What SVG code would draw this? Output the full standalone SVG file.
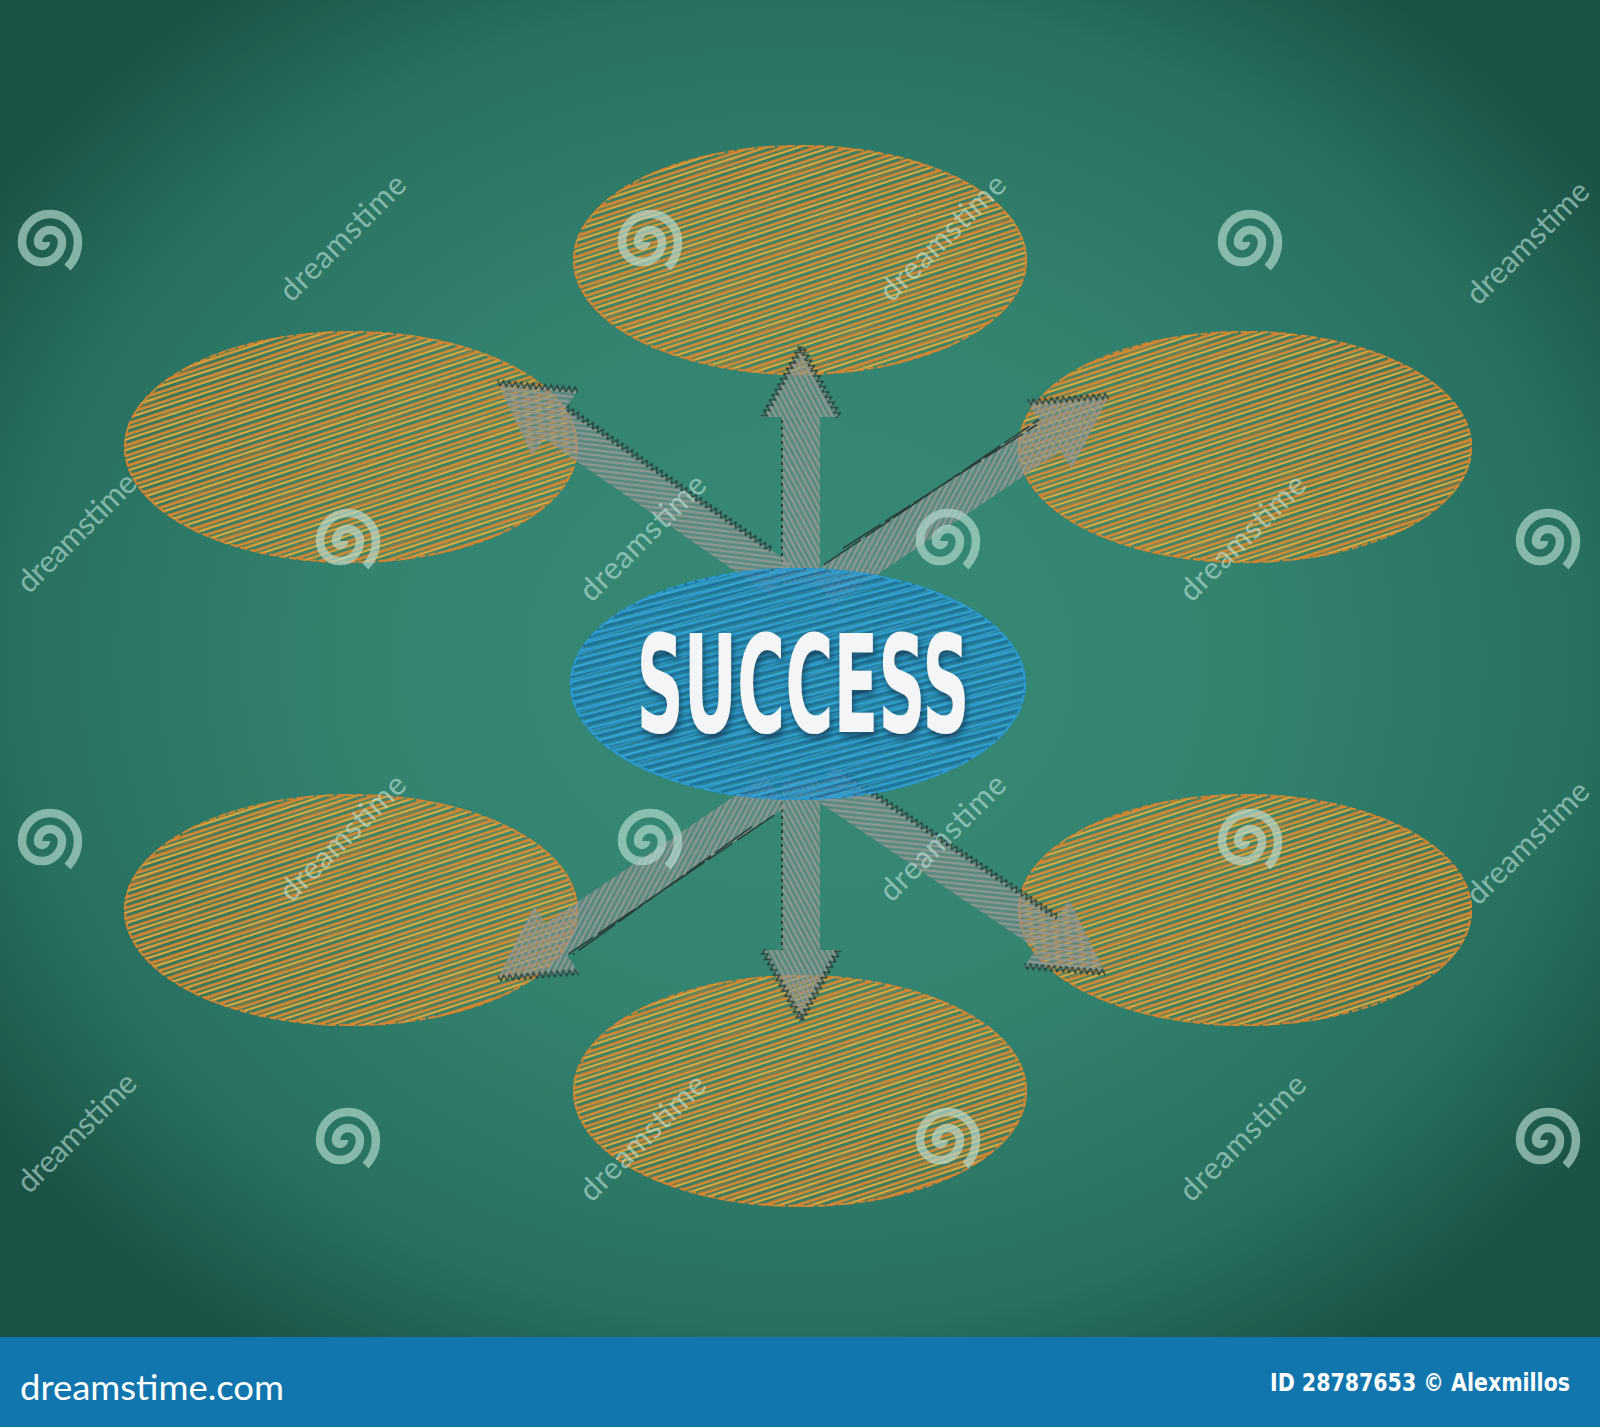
<svg xmlns="http://www.w3.org/2000/svg" xmlns:xlink="http://www.w3.org/1999/xlink" width="1600" height="1427" viewBox="0 0 1600 1427">
<defs>
<radialGradient id="bg" gradientUnits="userSpaceOnUse" cx="800" cy="660" r="980" gradientTransform="translate(800 660) scale(1 0.85) translate(-800 -660)">
<stop offset="0" stop-color="#378a78"/>
<stop offset="0.45" stop-color="#33836f"/>
<stop offset="0.8" stop-color="#287060"/>
<stop offset="1" stop-color="#1b5246"/>
</radialGradient>
<pattern id="orng" patternUnits="userSpaceOnUse" width="80" height="10" patternTransform="rotate(-18)">
<line x1="0" y1="2.5" x2="80" y2="2.5" stroke="#e0892d" stroke-width="2.6"/>
<line x1="0" y1="6.9" x2="80" y2="6.9" stroke="#dca83b" stroke-width="2.1"/>
</pattern>
<pattern id="orng2" patternUnits="userSpaceOnUse" width="80" height="17" patternTransform="rotate(-21)">
<line x1="0" y1="4" x2="80" y2="4" stroke="#cf7d2b" stroke-width="1.6"/>
</pattern>
<pattern id="blue" patternUnits="userSpaceOnUse" width="80" height="7" patternTransform="rotate(-14)">
<line x1="0" y1="1.8" x2="80" y2="1.8" stroke="#2d9fd6" stroke-width="2.2"/>
<line x1="0" y1="4.9" x2="80" y2="4.9" stroke="#1b6ea6" stroke-width="1.9"/>
</pattern>
<pattern id="blue2" patternUnits="userSpaceOnUse" width="80" height="11" patternTransform="rotate(-17)">
<line x1="0" y1="3" x2="80" y2="3" stroke="#3bb0e0" stroke-width="1.4"/>
</pattern>
<pattern id="hatch" patternUnits="userSpaceOnUse" width="40" height="5" patternTransform="rotate(-28)">
<line x1="0" y1="2" x2="40" y2="2" stroke="#8f9593" stroke-width="2.6"/>
</pattern>
<pattern id="zzp" patternUnits="userSpaceOnUse" x="0" y="-5" width="6" height="10">
<polyline points="0,2 3,8 6,2" fill="none" stroke="#26403b" stroke-width="1.4"/>
</pattern>
<path id="spiral" d="M4,0 A4,4 0 0 1 -4,0 A12,12 0 0 1 20,0 A20,20 0 0 1 -20,0 A28,28 0 0 1 36,0 A36,36 0 0 1 25.5,25.5" transform="translate(-7 2)"/>
<filter id="shadow" x="-10%" y="-20%" width="120%" height="150%">
<feDropShadow dx="2" dy="5" stdDeviation="3" flood-color="#0a3048" flood-opacity="0.65"/>
</filter>
</defs>
<style>
.scrib { fill: url(#orng); }
.scrib2 { fill: url(#orng2); opacity: 0.6; }
.tint { fill: #d9902e; opacity: 0.1; }
.rim { fill: none; stroke: #d8842e; stroke-width: 2.2; stroke-dasharray: 7 3; opacity: 0.85; }
.arrow { fill: url(#hatch); }
.arrowbase { fill: #8c9391; opacity: 0.32; }
.zz { fill: url(#zzp); }
.dash { fill: none; stroke: #2a3f3b; stroke-width: 2; stroke-dasharray: 3 4; }
.sketch { fill: none; stroke: #2a3f3b; stroke-width: 1.6; stroke-dasharray: 45 5 30 4; }
.wm { font-family: Lato, "Noto Sans", sans-serif; font-size: 31px; fill: #c2e4dc; fill-opacity: 0.6; }
.sp { fill: none; stroke: #b7dcd3; stroke-opacity: 0.66; stroke-width: 8.5; }
</style>

<rect x="0" y="0" width="1600" height="1337" fill="url(#bg)"/>

<g id="node-top">
<ellipse class="tint" cx="800" cy="260" rx="227" ry="115"/>
<ellipse class="scrib" cx="800" cy="260" rx="227" ry="115"/>
<ellipse class="scrib2" cx="800" cy="260" rx="227" ry="115"/>
<ellipse class="rim" cx="800" cy="260" rx="226" ry="114"/>
</g>
<g id="node-upper-left">
<ellipse class="tint" cx="351" cy="447" rx="227" ry="116"/>
<ellipse class="scrib" cx="351" cy="447" rx="227" ry="116"/>
<ellipse class="scrib2" cx="351" cy="447" rx="227" ry="116"/>
<ellipse class="rim" cx="351" cy="447" rx="226" ry="115"/>
</g>
<g id="node-upper-right">
<ellipse class="tint" cx="1245" cy="447" rx="227" ry="116"/>
<ellipse class="scrib" cx="1245" cy="447" rx="227" ry="116"/>
<ellipse class="scrib2" cx="1245" cy="447" rx="227" ry="116"/>
<ellipse class="rim" cx="1245" cy="447" rx="226" ry="115"/>
</g>
<g id="node-lower-left">
<ellipse class="tint" cx="351" cy="910" rx="227" ry="116"/>
<ellipse class="scrib" cx="351" cy="910" rx="227" ry="116"/>
<ellipse class="scrib2" cx="351" cy="910" rx="227" ry="116"/>
<ellipse class="rim" cx="351" cy="910" rx="226" ry="115"/>
</g>
<g id="node-lower-right">
<ellipse class="tint" cx="1245" cy="910" rx="227" ry="116"/>
<ellipse class="scrib" cx="1245" cy="910" rx="227" ry="116"/>
<ellipse class="scrib2" cx="1245" cy="910" rx="227" ry="116"/>
<ellipse class="rim" cx="1245" cy="910" rx="226" ry="115"/>
</g>
<g id="node-bottom">
<ellipse class="tint" cx="800" cy="1091" rx="227" ry="116"/>
<ellipse class="scrib" cx="800" cy="1091" rx="227" ry="116"/>
<ellipse class="scrib2" cx="800" cy="1091" rx="227" ry="116"/>
<ellipse class="rim" cx="800" cy="1091" rx="226" ry="115"/>
</g>

<g id="connectors">
<g id="arrow-top" transform="translate(801 585) rotate(-90)">
<polygon class="arrowbase" points="0,-19 168,-19 168,-38 238,0 168,38 168,19 0,19"/>
<polygon class="arrow" points="0,-19 168,-19 168,-38 238,0 168,38 168,19 0,19"/>
<line class="dash" x1="15" y1="-19" x2="168" y2="-19"/>
<rect class="zz" x="0" y="-5" width="80" height="10" transform="translate(168 -38) rotate(28.5)"/>
<rect class="zz" x="0" y="-5" width="80" height="10" transform="translate(168 38) rotate(-28.5)"/>
</g>
<g id="arrow-bottom" transform="translate(801 780) rotate(90)">
<polygon class="arrowbase" points="0,-19 170,-19 170,-38 240,0 170,38 170,19 0,19"/>
<polygon class="arrow" points="0,-19 170,-19 170,-38 240,0 170,38 170,19 0,19"/>
<line class="dash" x1="15" y1="19" x2="170" y2="19"/>
<rect class="zz" x="0" y="-5" width="80" height="10" transform="translate(170 -38) rotate(28.5)"/>
<rect class="zz" x="0" y="-5" width="80" height="10" transform="translate(170 38) rotate(-28.5)"/>
</g>
<g id="arrow-upper-left" transform="translate(781 580) rotate(214.8)">
<polygon class="arrowbase" points="0,-19 275,-19 275,-40 345,0 275,40 275,19 0,19"/>
<polygon class="arrow" points="0,-19 275,-19 275,-40 345,0 275,40 275,19 0,19"/>
<rect class="zz" x="0" y="-5" width="250" height="10" transform="translate(25 19)"/>
<rect class="zz" x="0" y="-5" width="81" height="10" transform="translate(275 40) rotate(-29.7)"/>
</g>
<g id="arrow-upper-right" transform="translate(822 589) rotate(-34)">
<polygon class="arrowbase" points="0,-19 275,-19 275,-40 345,0 275,40 275,19 0,19"/>
<polygon class="arrow" points="0,-19 275,-19 275,-40 345,0 275,40 275,19 0,19"/>
<path class="sketch" d="M15,-19 L275,-19 M40,-22 L270,-16"/>
<rect class="zz" x="0" y="-5" width="81" height="10" transform="translate(275 -40) rotate(29.7)"/>
</g>
<g id="arrow-lower-left" transform="translate(776 791) rotate(146)">
<polygon class="arrowbase" points="0,-19 265,-19 265,-40 335,0 265,40 265,19 0,19"/>
<polygon class="arrow" points="0,-19 265,-19 265,-40 335,0 265,40 265,19 0,19"/>
<path class="sketch" d="M15,-19 L265,-19 M40,-16 L260,-22"/>
<rect class="zz" x="0" y="-5" width="81" height="10" transform="translate(265 -40) rotate(29.7)"/>
</g>
<g id="arrow-lower-right" transform="translate(823 782) rotate(34)">
<polygon class="arrowbase" points="0,-19 270,-19 270,-40 340,0 270,40 270,19 0,19"/>
<polygon class="arrow" points="0,-19 270,-19 270,-40 340,0 270,40 270,19 0,19"/>
<rect class="zz" x="0" y="-5" width="255" height="10" transform="translate(15 -19)"/>
<rect class="zz" x="0" y="-5" width="81" height="10" transform="translate(270 40) rotate(-29.7)"/>
</g>
</g>

<g id="node-center">
<ellipse cx="798" cy="684" rx="228" ry="116" fill="#1e78ad" opacity="0.45"/>
<ellipse cx="798" cy="684" rx="228" ry="116" fill="url(#blue)"/>
<ellipse cx="798" cy="684" rx="228" ry="116" fill="url(#blue2)" opacity="0.6"/>
<ellipse cx="798" cy="684" rx="227" ry="115" fill="none" stroke="#2c9ad2" stroke-width="2" stroke-dasharray="8 3"/>
<text x="803" y="732" text-anchor="middle" font-family="'Liberation Sans Narrow','DejaVu Sans Condensed','Liberation Sans',sans-serif" font-weight="bold" font-size="135" fill="#f3f5f6" textLength="333" lengthAdjust="spacingAndGlyphs" filter="url(#shadow)">SUCCESS</text>
</g>

<g id="watermark">
<use href="#spiral" class="sp" x="49" y="240"/>
<use href="#spiral" class="sp" x="649" y="240"/>
<use href="#spiral" class="sp" x="1249" y="240"/>
<use href="#spiral" class="sp" x="347" y="539"/>
<use href="#spiral" class="sp" x="947" y="539"/>
<use href="#spiral" class="sp" x="1547" y="539"/>
<use href="#spiral" class="sp" x="49" y="839"/>
<use href="#spiral" class="sp" x="649" y="839"/>
<use href="#spiral" class="sp" x="1249" y="839"/>
<use href="#spiral" class="sp" x="347" y="1138"/>
<use href="#spiral" class="sp" x="947" y="1138"/>
<use href="#spiral" class="sp" x="1547" y="1138"/>
<text class="wm" text-anchor="middle" textLength="165" transform="translate(350 245) rotate(-45)">dreamstime</text>
<text class="wm" text-anchor="middle" textLength="165" transform="translate(950 245) rotate(-45)">dreamstime</text>
<text class="wm" text-anchor="middle" textLength="160" transform="translate(1535 250) rotate(-45)">dreamstime</text>
<text class="wm" text-anchor="middle" textLength="155" transform="translate(84 540) rotate(-45)">dreamstime</text>
<text class="wm" text-anchor="middle" textLength="165" transform="translate(650 545) rotate(-45)">dreamstime</text>
<text class="wm" text-anchor="middle" textLength="165" transform="translate(1250 545) rotate(-45)">dreamstime</text>
<text class="wm" text-anchor="middle" textLength="165" transform="translate(350 845) rotate(-45)">dreamstime</text>
<text class="wm" text-anchor="middle" textLength="165" transform="translate(950 845) rotate(-45)">dreamstime</text>
<text class="wm" text-anchor="middle" textLength="160" transform="translate(1535 850) rotate(-45)">dreamstime</text>
<text class="wm" text-anchor="middle" textLength="155" transform="translate(84 1140) rotate(-45)">dreamstime</text>
<text class="wm" text-anchor="middle" textLength="165" transform="translate(650 1145) rotate(-45)">dreamstime</text>
<text class="wm" text-anchor="middle" textLength="165" transform="translate(1250 1145) rotate(-45)">dreamstime</text>
</g>

<g id="footer">
<rect x="0" y="1337" width="1600" height="90" fill="#1176ad"/>
<text x="20" y="1400" font-family="Lato,'Noto Sans',sans-serif" font-size="34" fill="#ffffff" textLength="264" lengthAdjust="spacingAndGlyphs">dreamstime.com</text>
<text x="1270" y="1391" font-family="'Liberation Sans Narrow','DejaVu Sans Condensed','Liberation Sans',sans-serif" font-weight="bold" font-size="24" fill="#ffffff" textLength="300" lengthAdjust="spacingAndGlyphs">ID 28787653 © Alexmillos</text>
</g>
</svg>
